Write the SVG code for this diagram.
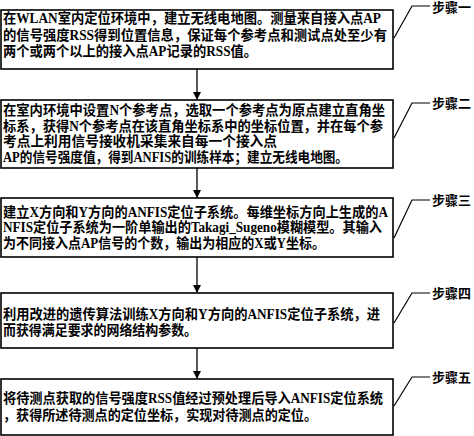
<svg xmlns="http://www.w3.org/2000/svg" width="474" height="436" viewBox="0 0 474 436">
<style>
.box{fill:#fff;stroke:#000;stroke-width:1.6}
.t{font-family:"Liberation Serif","Noto Sans CJK SC",serif;font-weight:bold;font-size:14px;fill:#000}
.lbl{font-family:"Liberation Serif","Noto Sans CJK SC",serif;font-weight:bold;font-size:13px;fill:#000}
.lead{fill:none;stroke:#000;stroke-width:1.2}
.arr{stroke:#000;stroke-width:1.3}
</style>
<defs>
<marker id="ah" markerWidth="8" markerHeight="10" refX="7" refY="4" orient="auto" markerUnits="userSpaceOnUse">
<path d="M0,0 L8,4 L0,8 Z" fill="#000"/>
</marker>
</defs>
<rect width="474" height="436" fill="#fff"/>
<g id="connectors">
<line class="arr" x1="197" y1="69" x2="197" y2="99" marker-end="url(#ah)"/>
<line class="arr" x1="197" y1="168" x2="197" y2="197" marker-end="url(#ah)"/>
<line class="arr" x1="197" y1="257" x2="197" y2="292" marker-end="url(#ah)"/>
<line class="arr" x1="197" y1="348" x2="197" y2="378" marker-end="url(#ah)"/>
<polyline class="lead" points="394,38 412,6 430,6"/>
<polyline class="lead" points="394,138 412,103 430,103"/>
<polyline class="lead" points="394,238 412,200 430,200"/>
<polyline class="lead" points="394,323 412,293 430,293"/>
<polyline class="lead" points="394,406 412,377 430,377"/>
</g>
<g id="step1">
<rect class="box" x="1" y="10" width="392" height="59"/>
<text class="t" x="3" y="23" textLength="378" lengthAdjust="spacingAndGlyphs">在WLAN室内定位环境中，建立无线电地图。测量来自接入点AP</text>
<text class="t" x="3" y="40" textLength="384" lengthAdjust="spacingAndGlyphs">的信号强度RSS得到位置信息，保证每个参考点和测试点处至少有</text>
<text class="t" x="3" y="56" textLength="254" lengthAdjust="spacingAndGlyphs">两个或两个以上的接入点AP记录的RSS值。</text>
<text class="lbl" x="432" y="12">步骤一</text>
</g>
<g id="step2">
<rect class="box" x="1" y="100" width="392" height="68"/>
<text class="t" x="3" y="115" textLength="382" lengthAdjust="spacingAndGlyphs">在室内环境中设置N个参考点，选取一个参考点为原点建立直角坐</text>
<text class="t" x="3" y="131" textLength="380" lengthAdjust="spacingAndGlyphs">标系，获得N个参考点在该直角坐标系中的坐标位置，并在每个参</text>
<text class="t" x="3" y="146" textLength="274" lengthAdjust="spacingAndGlyphs">考点上利用信号接收机采集来自每一个接入点</text>
<text class="t" x="3" y="162" textLength="345" lengthAdjust="spacingAndGlyphs">AP的信号强度值，得到ANFIS的训练样本；建立无线电地图。</text>
<text class="lbl" x="432" y="108">步骤二</text>
</g>
<g id="step3">
<rect class="box" x="1" y="198" width="392" height="59"/>
<text class="t" x="3" y="217" textLength="385" lengthAdjust="spacingAndGlyphs">建立X方向和Y方向的ANFIS定位子系统。每维坐标方向上生成的A</text>
<text class="t" x="3" y="232" textLength="379" lengthAdjust="spacingAndGlyphs">NFIS定位子系统为一阶单输出的Takagi_Sugeno模糊模型。其输入</text>
<text class="t" x="3" y="248" textLength="322" lengthAdjust="spacingAndGlyphs">为不同接入点AP信号的个数，输出为相应的X或Y坐标。</text>
<text class="lbl" x="432" y="205">步骤三</text>
</g>
<g id="step4">
<rect class="box" x="1" y="293" width="392" height="55"/>
<text class="t" x="3" y="319" textLength="377" lengthAdjust="spacingAndGlyphs">利用改进的遗传算法训练X方向和Y方向的ANFIS定位子系统，进</text>
<text class="t" x="3" y="335" textLength="194" lengthAdjust="spacingAndGlyphs">而获得满足要求的网络结构参数。</text>
<text class="lbl" x="432" y="298">步骤四</text>
</g>
<g id="step5">
<rect class="box" x="1" y="379" width="392" height="56"/>
<text class="t" x="3" y="403" textLength="380" lengthAdjust="spacingAndGlyphs">将待测点获取的信号强度RSS值经过预处理后导入ANFIS定位系统</text>
<text class="t" x="3" y="420" textLength="314" lengthAdjust="spacingAndGlyphs">，获得所述待测点的定位坐标，实现对待测点的定位。</text>
<text class="lbl" x="432" y="382">步骤五</text>
</g>
</svg>
